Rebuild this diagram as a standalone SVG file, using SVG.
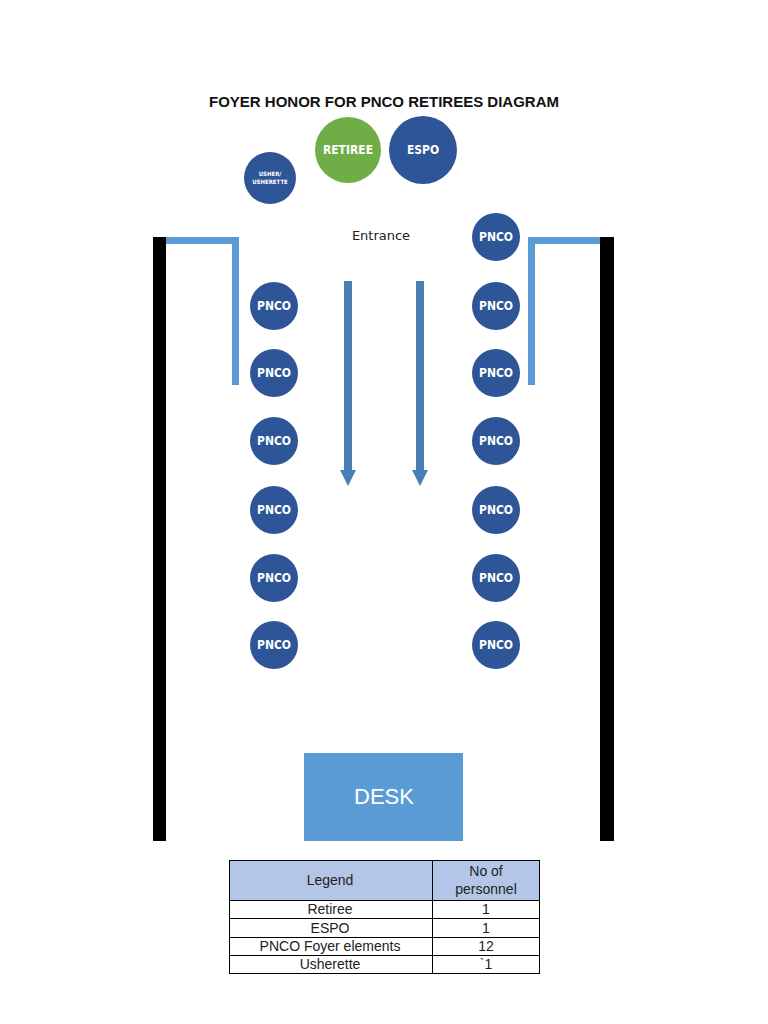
<svg xmlns="http://www.w3.org/2000/svg" width="768" height="1024" viewBox="0 0 768 1024">
<style>
.c{fill:#2e5597}
.t{font-family:"DejaVu Sans Condensed","DejaVu Sans",sans-serif;font-weight:bold;fill:#fff;text-anchor:middle}
.p{font-size:12px}
.l{font-family:"Liberation Sans",Arial,sans-serif;font-size:14px;fill:#222;text-anchor:middle}
.w{fill:#000}
.b{fill:#5b9bd5}
</style>
<rect width="768" height="1024" fill="#fff"/>
<text x="384" y="107" font-family="Liberation Sans,Arial,sans-serif" font-weight="bold" font-size="15" text-anchor="middle" fill="#111">FOYER HONOR FOR PNCO RETIREES DIAGRAM</text>
<g id="walls">
<rect class="w" x="153" y="237" width="13" height="604"/>
<rect class="w" x="600" y="237" width="14" height="604"/>
<rect class="b" x="166" y="237" width="72" height="7"/>
<rect class="b" x="232" y="237" width="7" height="148"/>
<rect class="b" x="528" y="237" width="7" height="148"/>
<rect class="b" x="535" y="237" width="65" height="7"/>
</g>
<text x="381" y="240" font-family="DejaVu Sans,sans-serif" font-size="13" text-anchor="middle" fill="#222">Entrance</text>
<g id="connectors" fill="#4a7fb5">
<path d="M344 281h8v189h4l-8 16l-8-16h4z"/>
<path d="M416 281h8v189h4l-8 16l-8-16h4z"/>
</g>
<g id="usher"><circle class="c" cx="270" cy="178" r="26"/><text class="t" x="270" y="176" font-size="6">USHER/</text><text class="t" x="270" y="184" font-size="6">USHERETTE</text></g>
<g id="retiree"><circle cx="348" cy="150" r="33" fill="#70ad47"/><text class="t" x="348" y="154" font-size="12">RETIREE</text></g>
<g id="espo"><circle class="c" cx="423" cy="150" r="34"/><text class="t" x="423" y="154" font-size="12">ESPO</text></g>
<g id="l1"><circle class="c" cx="274" cy="306" r="24"/><text class="t p" x="274" y="310">PNCO</text></g>
<g id="l2"><circle class="c" cx="274" cy="373" r="24"/><text class="t p" x="274" y="377">PNCO</text></g>
<g id="l3"><circle class="c" cx="274" cy="441" r="24"/><text class="t p" x="274" y="445">PNCO</text></g>
<g id="l4"><circle class="c" cx="274" cy="510" r="24"/><text class="t p" x="274" y="514">PNCO</text></g>
<g id="l5"><circle class="c" cx="274" cy="578" r="24"/><text class="t p" x="274" y="582">PNCO</text></g>
<g id="l6"><circle class="c" cx="274" cy="645" r="24"/><text class="t p" x="274" y="649">PNCO</text></g>
<g id="r0"><circle class="c" cx="496" cy="237" r="24"/><text class="t p" x="496" y="241">PNCO</text></g>
<g id="r1"><circle class="c" cx="496" cy="306" r="24"/><text class="t p" x="496" y="310">PNCO</text></g>
<g id="r2"><circle class="c" cx="496" cy="373" r="24"/><text class="t p" x="496" y="377">PNCO</text></g>
<g id="r3"><circle class="c" cx="496" cy="441" r="24"/><text class="t p" x="496" y="445">PNCO</text></g>
<g id="r4"><circle class="c" cx="496" cy="510" r="24"/><text class="t p" x="496" y="514">PNCO</text></g>
<g id="r5"><circle class="c" cx="496" cy="578" r="24"/><text class="t p" x="496" y="582">PNCO</text></g>
<g id="r6"><circle class="c" cx="496" cy="645" r="24"/><text class="t p" x="496" y="649">PNCO</text></g>
<g id="desk"><rect x="304" y="753" width="159" height="88" fill="#5b9bd5"/><text x="384" y="804" font-family="Liberation Sans,Arial,sans-serif" font-size="22" fill="#fff" text-anchor="middle">DESK</text></g>
<g id="legend" stroke="#000" stroke-width="1">
<rect x="229.5" y="860.5" width="310" height="40" fill="#b4c6e7"/>
<rect x="229.5" y="900.5" width="310" height="73" fill="#fff"/>
<path d="M432.5 860.5v113M229.5 918.5h310M229.5 937.5h310M229.5 955.5h310" fill="none"/>
<g stroke="none">
<text class="l" x="330" y="885">Legend</text>
<text class="l" x="486" y="876">No of</text>
<text class="l" x="486" y="894">personnel</text>
<text class="l" x="330" y="914">Retiree</text><text class="l" x="486" y="914">1</text>
<text class="l" x="330" y="933">ESPO</text><text class="l" x="486" y="933">1</text>
<text class="l" x="330" y="951">PNCO Foyer elements</text><text class="l" x="486" y="951">12</text>
<text class="l" x="330" y="969">Usherette</text><text class="l" x="486" y="969">`1</text>
</g></g>
</svg>
